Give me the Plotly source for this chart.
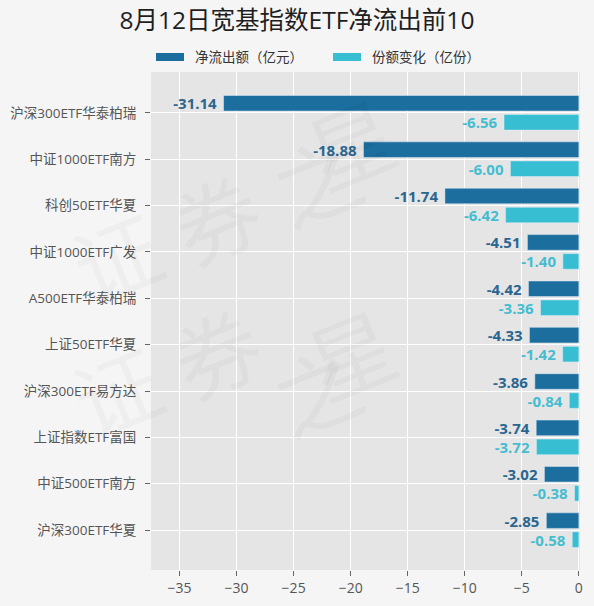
import plotly.graph_objects as go

# fund names, top to bottom
funds = ["沪深300ETF华泰柏瑞", "中证1000ETF南方", "科创50ETF华夏", "中证1000ETF广发",
         "A500ETF华泰柏瑞", "上证50ETF华夏", "沪深300ETF易方达", "上证指数ETF富国",
         "中证500ETF南方", "沪深300ETF华夏"]
net_outflow = [-31.14, -18.88, -11.74, -4.51, -4.42, -4.33, -3.86, -3.74, -3.02, -2.85]
share_change = [-6.56, -6.00, -6.42, -1.40, -3.36, -1.42, -0.84, -3.72, -0.38, -0.58]
x_ticks = [-35, -30, -25, -20, -15, -10, -5, 0]
series_names = ["净流出额（亿元）", "份额变化（亿份）"]
watermark = "证券之星"

DARK = "#1b6e9e"
LIGHT = "#37bed2"
FONT = "Open Sans, Noto Sans CJK SC, sans-serif"
W, H = 594, 606
ML, MR, MT, MB = 151, 14, 72, 36


def px_x(x):
    return (x - ML) / (W - ML - MR)


def px_y(y):
    return (H - MB - y) / (H - MT - MB)


fig = go.Figure()
fig.add_trace(go.Bar(
    y=funds, x=net_outflow, orientation="h", name=series_names[0],
    marker=dict(color=DARK), texttemplate="%{x:.2f} ", textposition="outside",
    constraintext="none",
    textfont=dict(color="#2a6690", size=15, family=FONT, weight="bold"),
    cliponaxis=False,
))
fig.add_trace(go.Bar(
    y=funds, x=share_change, orientation="h", name=series_names[1],
    marker=dict(color=LIGHT), texttemplate="%{x:.2f} ", textposition="outside",
    constraintext="none",
    textfont=dict(color="#45bdd1", size=15, family=FONT, weight="bold"),
    cliponaxis=False,
))

# faint watermark, one character at a time along a slanted line
for sx, sy in [(50, 178), (50, 465)]:
    for k, ch in enumerate(watermark):
        fig.add_annotation(text=ch, xref="paper", yref="paper",
                           x=px_x(sx + 100 * k), y=px_y(sy - 38 * k),
                           showarrow=False, textangle=-22,
                           font=dict(size=86, color="rgba(0,0,0,0.028)",
                                     family="Noto Sans CJK SC"))

# hand-made legend with wide swatches
for i, (name, col) in enumerate(zip(series_names, [DARK, LIGHT])):
    x0 = 156 + i * 177
    fig.add_shape(type="rect", xref="paper", yref="paper",
                  x0=px_x(x0), x1=px_x(x0 + 28), y0=px_y(61), y1=px_y(53),
                  fillcolor=col, line=dict(width=0))
    fig.add_annotation(text=name, xref="paper", yref="paper", x=px_x(x0 + 37),
                       y=px_y(57), xanchor="left", yanchor="middle", showarrow=False,
                       font=dict(size=13.5, color="#333", family=FONT))

fig.update_layout(
    width=W, height=H,
    title=dict(text="8月12日宽基指数ETF净流出前10", x=0.5, xanchor="center",
               y=1 - 20 / H, yanchor="middle",
               font=dict(size=24.5, color="#1e1e1e", family=FONT)),
    showlegend=False,
    barmode="group", bargap=0.18, bargroupgap=0.18,
    paper_bgcolor="#f5f5f5", plot_bgcolor="#e5e5e5",
    margin=dict(l=ML, r=MR, t=MT, b=MB),
    font=dict(family=FONT, color="#555"),
)
fig.update_xaxes(range=[-37.5, 0.1], tickvals=x_ticks, ticks="outside", ticklen=5,
                 tickcolor="#666", gridcolor="white", gridwidth=1, zeroline=False,
                 tickfont=dict(size=14, color="#555"), automargin=False)
fig.update_yaxes(categoryorder="array", categoryarray=funds, range=[9.86, -0.88],
                 ticks="outside", ticklen=5, tickcolor="#666", gridcolor="white",
                 gridwidth=1, tickfont=dict(size=13.5, color="#555"), automargin=False,
                 ticklabelstandoff=6)

fig.write_html("out.html", config={"displayModeBar": False},
               post_script="document.body.style.margin='0';")
